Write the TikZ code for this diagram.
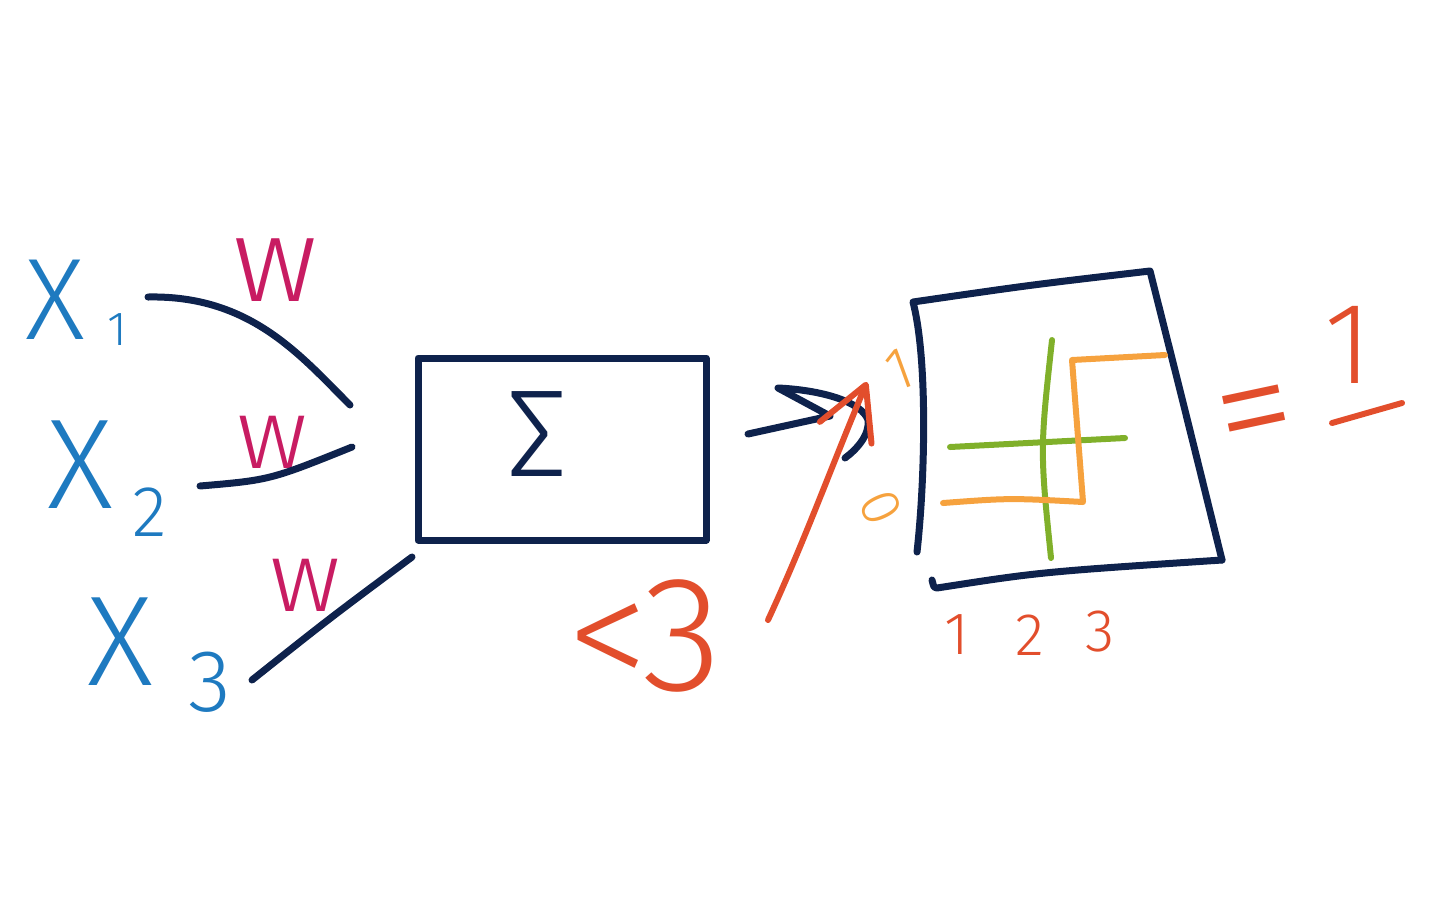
\documentclass[tikz,border=0pt]{standalone}
\usepackage{fontspec}
\setmainfont{Fira Sans}[UprightFont={* Light}]
\usepackage{xcolor}
\usepackage{tikz}
\usetikzlibrary{arrows.meta}
\usetikzlibrary{calc}
\definecolor{inkblue}{RGB}{30,122,192}
\definecolor{inkpink}{RGB}{200,28,98}
\definecolor{inknavy}{RGB}{14,34,76}
\definecolor{inkred}{RGB}{226,78,44}
\definecolor{inkorange}{RGB}{246,162,62}
\definecolor{inkgreen}{RGB}{128,176,42}
\newcommand{\penfont}[1]{\fontsize{#1}{#1}\selectfont}
\tikzstyle{pen}=[line width=3.5pt,line cap=round,line join=round]
\tikzstyle{thinpen}=[line width=3pt,line cap=round,line join=round]
\tikzstyle{var}=[text=inkblue,inner sep=0pt]
\tikzstyle{weight}=[text=inkpink,inner sep=0pt]
\tikzstyle{lbl}=[text=inkred,inner sep=0pt]
\tikzset{sumbox/.style={rectangle,draw=inknavy,pen,minimum width=144pt,minimum height=91pt}}

\begin{document}
\begin{tikzpicture}[x=0.5pt,y=-0.5pt]
  \useasboundingbox (0,0) rectangle (1449,906);

  % inputs and weights
  \foreach \x/\y/\name/\sz in {55/300/x1/58, 80/465/x2/64, 120/642/x3/64}
     \node[var,font=\penfont{\sz}] (\name) at (\x,\y) {X};
  \foreach \x/\y/\name/\label/\sz in {117/330/s1/1/24, 150/512/s2/2/36, 210/682/s3/3/44}
     \node[var,font=\penfont{\sz}] (\name) at (\x,\y) {\label};
  \foreach \x/\y/\name/\sz in {275/270/w1/60, 272/442/w2/50, 305/585/w3/50}
     \node[weight,font=\penfont{\sz}] (\name) at (\x,\y) {w};

  \coordinate (a1) at (148,297); \coordinate (b1) at (350,405);
  \coordinate (a2) at (200,486); \coordinate (b2) at (352,447);
  \coordinate (a3) at (252,680); \coordinate (b3) at (412,557);
  \draw[pen,inknavy] (a1) .. controls (250,295) and (300,355) .. (b1);
  \draw[pen,inknavy] (a2) .. controls (270,480) .. (b2);
  \draw[pen,inknavy] (a3) .. controls (330,618) .. (b3);

  % summation
  \node[sumbox] (sum) at (562,449) {};
  \node[text=inknavy,inner sep=0pt,font=\penfont{62}] (sigma) at (537,434) {Σ};

  \coordinate (o1) at (748,434); \coordinate (o2) at (830,416);
  \draw[pen,inknavy] (o1) -- (o2) -- (778,388) .. controls (822,390) and (862,402) .. (868,420)
        .. controls (870,435) and (856,450) .. (845,458);

  % threshold
  \node[lbl,font=\penfont{82}] (heart) at (645,636) {<3};
  \coordinate (r1) at (768,620); \coordinate (r2) at (867,382);
  \draw[thinpen,inkred,-{Straight Barb[length=26pt,width=28pt,round]}] (r1) .. controls (805,540) and (830,470) .. (r2);

  % step function
  \coordinate (p1) at (913,302); \coordinate (p2) at (1150,271);
  \coordinate (p3) at (1222,560); \coordinate (p4) at (937,588); \coordinate (p5) at (917,552);
  \draw[pen,inknavy] (p5) .. controls (925,480) and (928,360) .. (p1) .. controls (1030,285) .. (p2)
        .. controls (1185,410) .. (p3);
  \draw[pen,inknavy] (932,580) .. controls (934,588) .. (p4) .. controls (1040,572) .. (p3);

  \coordinate (g1) at (1052,340); \coordinate (g2) at (1051,558);
  \coordinate (g3) at (950,447);  \coordinate (g4) at (1125,438);
  \draw[thinpen,inkgreen] (g1) .. controls (1040,450) .. (g2);
  \draw[thinpen,inkgreen] (g3) -- (g4);
  \coordinate (q1) at (943,503); \coordinate (q2) at (1083,502);
  \coordinate (q3) at (1072,360); \coordinate (q4) at (1165,355);
  \draw[thinpen,inkorange] (q1) .. controls (1010,498) .. (q2) -- (q3) -- (q4);

  \node[text=inkorange,inner sep=0pt,font=\penfont{30},rotate=20] (hi) at (899,370) {1};
  \node[text=inkorange,inner sep=0pt,font=\penfont{28},rotate=-65] (lo) at (881,508) {0};
  \foreach \x/\y/\name/\label in {957/635/t1/1, 1030/635/t2/2, 1100/632/t3/3}
     \node[lbl,font=\penfont{30}] (\name) at (\x,\y) {\label};

  % result
  \node[lbl,font=\penfont{80},rotate=12] (eq) at (1258,426) {=};
  \node[lbl,font=\penfont{58}] (one) at (1348,345) {1};
  \draw[thinpen,inkred] (1332,423) -- (1402,403);
\end{tikzpicture}
\end{document}
